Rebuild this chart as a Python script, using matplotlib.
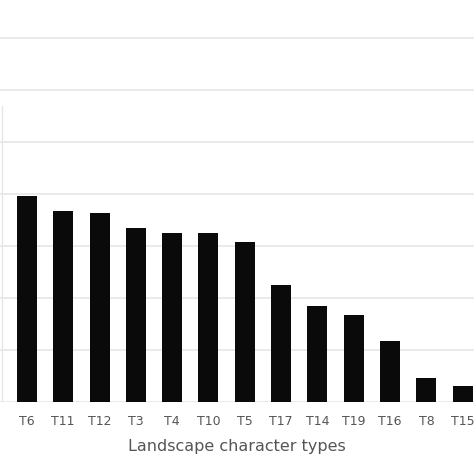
import matplotlib
matplotlib.use("Agg")
import matplotlib.pyplot as plt

categories = ["T6", "T11", "T12", "T3", "T4", "T10", "T5", "T17", "T14", "T19", "T16", "T8", "T15"]
values = [3.96, 3.67, 3.63, 3.34, 3.24, 3.24, 3.07, 2.25, 1.85, 1.68, 1.18, 0.46, 0.31]

fig = plt.figure(figsize=(4.74, 4.74), dpi=100)
ax = fig.add_axes([0, 0.152, 1, 0.848])

x = list(range(len(categories)))
ax.bar(x, values, width=0.55, color="#0a0a0a", zorder=3)
ax.set_xlim(-0.74, 12.31)
ax.set_ylim(0, 7.73)
ax.set_yticks(range(0, 8))
ax.yaxis.grid(True, color="#e6e6e6", linewidth=1.2, zorder=0)
ax.tick_params(axis="y", left=False, labelleft=False)
ax.tick_params(axis="x", bottom=False, labelsize=9, colors="#555555", pad=6)
ax.set_xticks(x)
ax.set_xticklabels(categories)
for s in ax.spines.values():
    s.set_visible(False)
ax.plot([-0.69, -0.69], [0, 5.7], color="#e6e6e6", linewidth=1, zorder=1)
ax.set_xlabel("Landscape character types", fontsize=11.5, color="#555555", labelpad=8)

fig.savefig("out.png", dpi=100)
